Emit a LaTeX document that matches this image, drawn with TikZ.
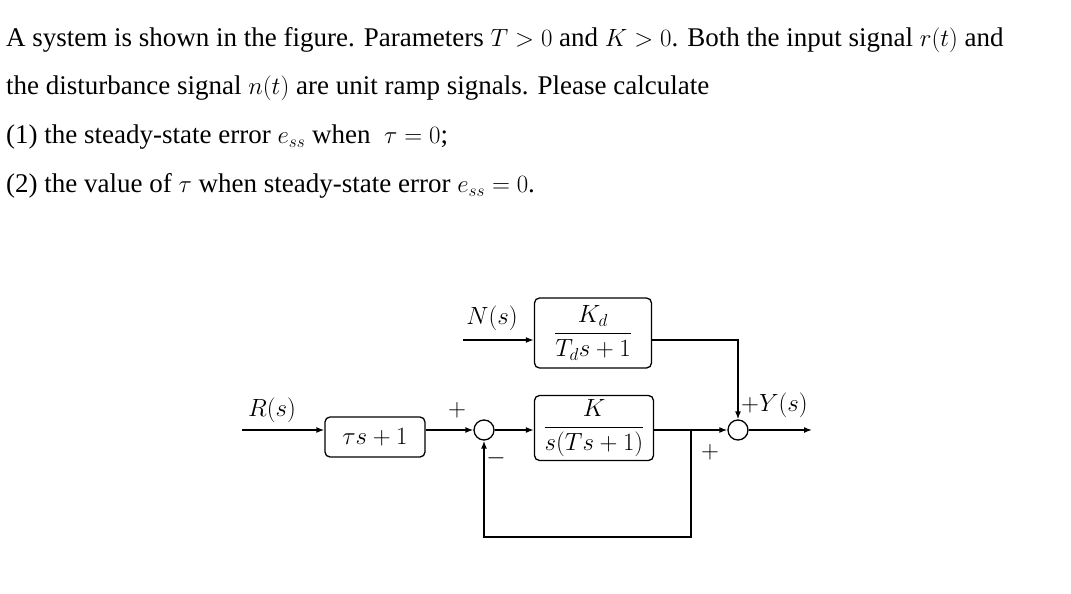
\documentclass[tikz,border=0pt]{standalone}
\usepackage{amsmath}
\usepackage{fontspec}
\setmainfont{Liberation Serif}
\usetikzlibrary{arrows.meta}
\begin{document}
\begin{tikzpicture}[x=1pt,y=-1pt,
  txt/.style={anchor=west,font=\fontsize{27}{30}\selectfont,inner sep=0},
  lbl/.style={font=\fontsize{24}{27}\selectfont,inner sep=0},
  blk/.style={draw,line width=1.3pt,rounded corners=5pt,inner sep=0,font=\fontsize{23}{26}\selectfont},
  sum/.style={draw,line width=1.3pt,circle,minimum size=20pt,inner sep=0},
  ln/.style={line width=1.5pt},
  ar/.style={ln,-{Latex[length=8pt,width=6pt]}}]
\useasboundingbox (0,0) rectangle (1071,594);
\node[txt] (l1) at (6,40) {A system is shown in the figure. Parameters $T>0$ and $K>0$. Both the input signal $r(t)$ and};
\node[txt] (l2) at (6,88) {the disturbance signal $n(t)$ are unit ramp signals. Please calculate};
\node[txt] (l3) at (6,137) {(1) the steady-state error $e_{ss}$ when\ \ $\tau=0$;};
\node[txt] (l4) at (6,186) {(2) the value of $\tau$ when steady-state error $e_{ss}=0$.};

\coordinate (rin) at (242,430);
\node[blk,minimum width=100pt,minimum height=40pt] (b1) at (375,437) {$\tau s+1$};
\node[sum] (s1) at (484,430) {};
\node[blk,minimum width=119pt,minimum height=65pt] (b2) at (594,428) {$\dfrac{K}{s(Ts+1)}$};
\node[blk,minimum width=117pt,minimum height=70pt] (b3) at (593,333) {$\dfrac{K_d}{T_d s+1}$};
\node[sum] (s2) at (738,430) {};
\coordinate (nin) at (463,340);
\coordinate (yout) at (812,430);
\coordinate (br) at (691,430);
\coordinate (fb1) at (691,537);
\coordinate (fb2) at (484,537);
\coordinate (kc) at (738,340);

\draw[ar] (rin) -- (rin-|b1.west);
\draw[ar] (b1.east|-s1) -- (s1.west);
\draw[ar] (s1.east) -- (b2.west|-s1);
\draw[ar] (b2.east|-s2) -- (s2.west);
\draw[ar] (s2.east) -- (yout);
\draw[ar] (nin) -- (nin-|b3.west);
\draw[ar] (b3.east|-kc) -- (kc) -- (s2.north);
\draw[ar] (br) -- (fb1) -- (fb2) -- (s1.south);

\node[lbl] (tr) at (272,410) {$R(s)$};
\node[lbl] (tn) at (492,318) {$N(s)$};
\node[lbl,anchor=west] (ty) at (741,405) {$+Y(s)$};
\node[lbl] (p1) at (457,410) {$+$};
\node[lbl] (m1) at (496,458) {$-$};
\node[lbl] (p2) at (710,452) {$+$};
\end{tikzpicture}
\end{document}
